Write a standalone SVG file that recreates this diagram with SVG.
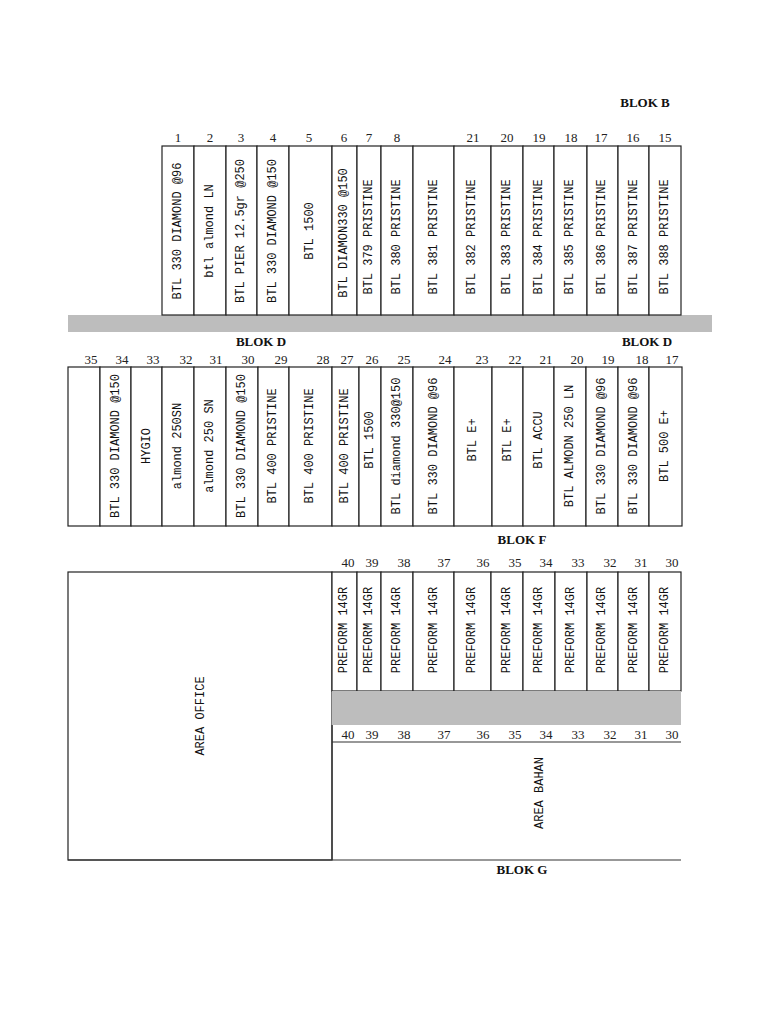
<svg xmlns="http://www.w3.org/2000/svg" width="768" height="1024" viewBox="0 0 768 1024">
<style>
.c{fill:#fff;stroke:#222;stroke-width:1.2}
.g{fill:#bdbdbd}
.t{font-family:"Liberation Mono",monospace;font-size:12px;fill:#111;text-anchor:middle;dominant-baseline:central}
.n{font-family:"Liberation Serif",serif;font-size:13px;fill:#222;text-anchor:middle}
.b{font-family:"Liberation Serif",serif;font-size:13px;font-weight:bold;fill:#111;text-anchor:middle}
.l{stroke:#333;stroke-width:1.2;fill:none}
</style>
<rect width="768" height="1024" fill="#fff"/>
<text class="b" x="645" y="107">BLOK B</text>
<text class="b" x="261" y="346">BLOK D</text>
<text class="b" x="647" y="346">BLOK D</text>
<text class="b" x="522" y="544">BLOK F</text>
<text class="b" x="522" y="874">BLOK G</text>
<rect class="g" x="68" y="315" width="644" height="17"/>
<g id="top">
<rect class="c" x="162" y="146" width="32" height="169"/><text class="t" transform="translate(178,231) rotate(-90)">BTL 330 DIAMOND @96</text>
<rect class="c" x="194" y="146" width="32" height="169"/><text class="t" transform="translate(210,231) rotate(-90)">btl almond LN</text>
<rect class="c" x="226" y="146" width="31" height="169"/><text class="t" transform="translate(241,231) rotate(-90)">BTL PIER 12.5gr @250</text>
<rect class="c" x="257" y="146" width="32" height="169"/><text class="t" transform="translate(273,231) rotate(-90)">BTL 330 DIAMOND @150</text>
<rect class="c" x="289" y="146" width="43" height="169"/><text class="t" transform="translate(310,231) rotate(-90)">BTL 1500</text>
<rect class="c" x="332" y="146" width="25" height="169"/><text class="t" transform="translate(344,233) rotate(-90)">BTL DIAMON330 @150</text>
<rect class="c" x="357" y="146" width="24" height="169"/><text class="t" transform="translate(369,237) rotate(-90)">BTL 379 PRISTINE</text>
<rect class="c" x="381" y="146" width="32" height="169"/><text class="t" transform="translate(397,237) rotate(-90)">BTL 380 PRISTINE</text>
<rect class="c" x="413" y="146" width="41" height="169"/><text class="t" transform="translate(434,237) rotate(-90)">BTL 381 PRISTINE</text>
<rect class="c" x="454" y="146" width="37" height="169"/><text class="t" transform="translate(472,237) rotate(-90)">BTL 382 PRISTINE</text>
<rect class="c" x="491" y="146" width="32" height="169"/><text class="t" transform="translate(507,237) rotate(-90)">BTL 383 PRISTINE</text>
<rect class="c" x="523" y="146" width="31" height="169"/><text class="t" transform="translate(539,237) rotate(-90)">BTL 384 PRISTINE</text>
<rect class="c" x="554" y="146" width="33" height="169"/><text class="t" transform="translate(570,237) rotate(-90)">BTL 385 PRISTINE</text>
<rect class="c" x="587" y="146" width="31" height="169"/><text class="t" transform="translate(602,237) rotate(-90)">BTL 386 PRISTINE</text>
<rect class="c" x="618" y="146" width="31" height="169"/><text class="t" transform="translate(634,237) rotate(-90)">BTL 387 PRISTINE</text>
<rect class="c" x="649" y="146" width="32" height="169"/><text class="t" transform="translate(665,237) rotate(-90)">BTL 388 PRISTINE</text>
<g class="n"><text x="178" y="142">1</text><text x="210" y="142">2</text><text x="241" y="142">3</text><text x="273" y="142">4</text><text x="309" y="142">5</text><text x="344" y="142">6</text><text x="369" y="142">7</text><text x="397" y="142">8</text><text x="473" y="142">21</text><text x="507" y="142">20</text><text x="539" y="142">19</text><text x="571" y="142">18</text><text x="601" y="142">17</text><text x="633" y="142">16</text><text x="665" y="142">15</text></g>
</g>
<g id="mid">
<rect class="c" x="68" y="367" width="32" height="159"/>
<rect class="c" x="100" y="367" width="31" height="159"/><text class="t" transform="translate(116,446) rotate(-90)">BTL 330 DIAMOND @150</text>
<rect class="c" x="131" y="367" width="31" height="159"/><text class="t" transform="translate(147,446) rotate(-90)">HYGIO</text>
<rect class="c" x="162" y="367" width="32" height="159"/><text class="t" transform="translate(178,446) rotate(-90)">almond 250SN</text>
<rect class="c" x="194" y="367" width="32" height="159"/><text class="t" transform="translate(210,446) rotate(-90)">almond 250 SN</text>
<rect class="c" x="226" y="367" width="32" height="159"/><text class="t" transform="translate(242,446) rotate(-90)">BTL 330 DIAMOND @150</text>
<rect class="c" x="258" y="367" width="31" height="159"/><text class="t" transform="translate(273,446) rotate(-90)">BTL 400 PRISTINE</text>
<rect class="c" x="289" y="367" width="43" height="159"/><text class="t" transform="translate(310,446) rotate(-90)">BTL 400 PRISTINE</text>
<rect class="c" x="332" y="367" width="27" height="159"/><text class="t" transform="translate(345,446) rotate(-90)">BTL 400 PRISTINE</text>
<rect class="c" x="359" y="367" width="22" height="159"/><text class="t" transform="translate(370,440) rotate(-90)">BTL 1500</text>
<rect class="c" x="381" y="367" width="32" height="159"/><text class="t" transform="translate(397,446) rotate(-90)">BTL diamond 330@150</text>
<rect class="c" x="413" y="367" width="41" height="159"/><text class="t" transform="translate(434,446) rotate(-90)">BTL 330 DIAMOND @96</text>
<rect class="c" x="454" y="367" width="38" height="159"/><text class="t" transform="translate(473,440) rotate(-90)">BTL E+</text>
<rect class="c" x="492" y="367" width="31" height="159"/><text class="t" transform="translate(508,440) rotate(-90)">BTL E+</text>
<rect class="c" x="523" y="367" width="31" height="159"/><text class="t" transform="translate(539,440) rotate(-90)">BTL ACCU</text>
<rect class="c" x="554" y="367" width="32" height="159"/><text class="t" transform="translate(570,446) rotate(-90)">BTL ALMODN 250 LN</text>
<rect class="c" x="586" y="367" width="32" height="159"/><text class="t" transform="translate(602,446) rotate(-90)">BTL 330 DIAMOND @96</text>
<rect class="c" x="618" y="367" width="31" height="159"/><text class="t" transform="translate(634,446) rotate(-90)">BTL 330 DIAMOND @96</text>
<rect class="c" x="649" y="367" width="33" height="159"/><text class="t" transform="translate(665,446) rotate(-90)">BTL 500 E+</text>
<g class="n"><text x="91" y="364">35</text><text x="122" y="364">34</text><text x="153" y="364">33</text><text x="186" y="364">32</text><text x="216" y="364">31</text><text x="248" y="364">30</text><text x="281" y="364">29</text><text x="323" y="364">28</text><text x="347" y="364">27</text><text x="372" y="364">26</text><text x="404" y="364">25</text><text x="445" y="364">24</text><text x="482" y="364">23</text><text x="515" y="364">22</text><text x="546" y="364">21</text><text x="577" y="364">20</text><text x="608" y="364">19</text><text x="642" y="364">18</text><text x="672" y="364">17</text></g>
</g>
<g id="office">
<rect class="c" x="68" y="572" width="264" height="288"/>
<text class="t" transform="translate(201,716) rotate(-90)">AREA OFFICE</text>
</g>
<g id="preform">
<rect class="c" x="332" y="572" width="25" height="119"/><text class="t" transform="translate(344,630) rotate(-90)">PREFORM 14GR</text>
<rect class="c" x="357" y="572" width="24" height="119"/><text class="t" transform="translate(369,630) rotate(-90)">PREFORM 14GR</text>
<rect class="c" x="381" y="572" width="32" height="119"/><text class="t" transform="translate(397,630) rotate(-90)">PREFORM 14GR</text>
<rect class="c" x="413" y="572" width="41" height="119"/><text class="t" transform="translate(434,630) rotate(-90)">PREFORM 14GR</text>
<rect class="c" x="454" y="572" width="37" height="119"/><text class="t" transform="translate(472,630) rotate(-90)">PREFORM 14GR</text>
<rect class="c" x="491" y="572" width="32" height="119"/><text class="t" transform="translate(507,630) rotate(-90)">PREFORM 14GR</text>
<rect class="c" x="523" y="572" width="32" height="119"/><text class="t" transform="translate(539,630) rotate(-90)">PREFORM 14GR</text>
<rect class="c" x="555" y="572" width="32" height="119"/><text class="t" transform="translate(571,630) rotate(-90)">PREFORM 14GR</text>
<rect class="c" x="587" y="572" width="31" height="119"/><text class="t" transform="translate(602,630) rotate(-90)">PREFORM 14GR</text>
<rect class="c" x="618" y="572" width="31" height="119"/><text class="t" transform="translate(634,630) rotate(-90)">PREFORM 14GR</text>
<rect class="c" x="649" y="572" width="32" height="119"/><text class="t" transform="translate(665,630) rotate(-90)">PREFORM 14GR</text>
<rect class="g" x="332" y="691" width="349" height="34"/>
<g class="n"><text x="348" y="567">40</text><text x="372" y="567">39</text><text x="404" y="567">38</text><text x="444" y="567">37</text><text x="483" y="567">36</text><text x="515" y="567">35</text><text x="546" y="567">34</text><text x="578" y="567">33</text><text x="610" y="567">32</text><text x="641" y="567">31</text><text x="672" y="567">30</text></g>
<g class="n"><text x="348" y="739">40</text><text x="372" y="739">39</text><text x="404" y="739">38</text><text x="444" y="739">37</text><text x="483" y="739">36</text><text x="515" y="739">35</text><text x="546" y="739">34</text><text x="578" y="739">33</text><text x="610" y="739">32</text><text x="641" y="739">31</text><text x="672" y="739">30</text></g>
</g>
<g id="bahan">
<path class="l" d="M332 742H681M332 725V860M68 860H681"/>
<text class="t" transform="translate(540,793) rotate(-90)">AREA BAHAN</text>
</g>
</svg>
